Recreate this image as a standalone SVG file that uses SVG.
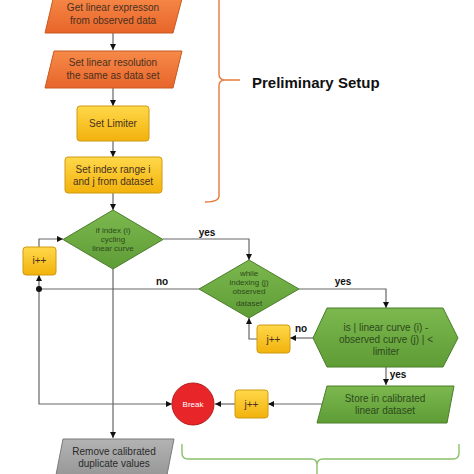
<svg xmlns="http://www.w3.org/2000/svg" width="474" height="474" viewBox="0 0 474 474">
<defs>
<linearGradient id="gOr" x1="0" y1="0" x2="0" y2="1"><stop offset="0" stop-color="#f68a48"/><stop offset="1" stop-color="#e8652a"/></linearGradient>
<linearGradient id="gYe" x1="0" y1="0" x2="0" y2="1"><stop offset="0" stop-color="#ffd84a"/><stop offset="1" stop-color="#f2b20c"/></linearGradient>
<linearGradient id="gGr" x1="0" y1="0" x2="0" y2="1"><stop offset="0" stop-color="#7cb84e"/><stop offset="1" stop-color="#5e9c36"/></linearGradient>
<linearGradient id="gGy" x1="0" y1="0" x2="0" y2="1"><stop offset="0" stop-color="#b3b3b3"/><stop offset="1" stop-color="#949494"/></linearGradient>
<marker id="ar" viewBox="0 0 10 10" refX="10" refY="5" markerWidth="6" markerHeight="6" orient="auto" markerUnits="userSpaceOnUse"><path d="M0,0 L10,5 L0,10 z" fill="#111"/></marker>
<style>
.t{font-family:"Liberation Sans",Arial,sans-serif;font-size:10px;fill:#4a3020;text-anchor:middle}
.td{font-family:"Liberation Sans",Arial,sans-serif;font-size:8px;fill:#2e4a1c;text-anchor:middle}
.tg{font-family:"Liberation Sans",Arial,sans-serif;font-size:10px;fill:#2e4a1c;text-anchor:middle}
.lb{font-family:"Liberation Sans",Arial,sans-serif;font-size:10px;font-weight:bold;fill:#111;text-anchor:middle}
.or{fill:url(#gOr);stroke:#c65a22;stroke-width:1}
.ye{fill:url(#gYe);stroke:#d09a10;stroke-width:1}
.gr{fill:url(#gGr);stroke:#4a7e2a;stroke-width:1}
.cn{fill:none;stroke:#666;stroke-width:1.2}
</style>
</defs>

<g id="connectors">
<path class="cn" d="M113,33 V50" marker-end="url(#ar)"/>
<path class="cn" d="M113,88 V106" marker-end="url(#ar)"/>
<path class="cn" d="M113,141 V157" marker-end="url(#ar)"/>
<path class="cn" d="M113,193 V210" marker-end="url(#ar)"/>
<path class="cn" d="M113,269 V438" marker-end="url(#ar)"/>
<path class="cn" d="M163,239 H249 V260" marker-end="url(#ar)"/>
<path class="cn" d="M299,289 H386 V308" marker-end="url(#ar)"/>
<path class="cn" d="M199,289 H39"/>
<path class="cn" d="M39,289 V275" marker-end="url(#ar)"/>
<path class="cn" d="M39,247 V239 H63" marker-end="url(#ar)"/>
<path class="cn" d="M39,289 V404 H172" marker-end="url(#ar)"/>
<path class="cn" d="M313,338 H290" marker-end="url(#ar)"/>
<path class="cn" d="M257,339 H249 V318" marker-end="url(#ar)"/>
<path class="cn" d="M386,367 V385" marker-end="url(#ar)"/>
<path class="cn" d="M322,404 H268" marker-end="url(#ar)"/>
<path class="cn" d="M235,404 H215" marker-end="url(#ar)"/>
<circle cx="39" cy="289" r="3" fill="#111"/>
<text class="lb" x="207" y="236">yes</text>
<text class="lb" x="162" y="285">no</text>
<text class="lb" x="343" y="285">yes</text>
<text class="lb" x="301" y="332">no</text>
<text class="lb" x="398" y="378">yes</text>
</g>

<g id="n1"><polygon class="or" points="54,-5 183,-5 173,33 45,33"/>
<text class="t" x="113" y="11">Get linear expresson</text><text class="t" x="113" y="24">from observed data</text></g>

<g id="n2"><polygon class="or" points="54,51 182,51 173,88 45,88"/>
<text class="t" x="113" y="66">Set linear resolution</text><text class="t" x="113" y="79">the same as data set</text></g>

<g id="n3"><rect class="ye" x="77" y="106" width="72" height="35" rx="3"/>
<text class="t" x="113" y="127">Set Limiter</text></g>

<g id="n4"><rect class="ye" x="65" y="157" width="97" height="36" rx="3"/>
<text class="t" x="113" y="173">Set index range i</text><text class="t" x="113" y="185">and j from dataset</text></g>

<g id="d1"><polygon class="gr" points="113,210 163,239.5 113,269 63,239.5"/>
<text class="td" x="113" y="233">if index (i)</text><text class="td" x="113" y="242">cycling</text><text class="td" x="113" y="251">linear curve</text></g>

<g id="i1"><rect class="ye" x="23" y="247" width="33" height="28" rx="3"/>
<text class="t" x="39.5" y="264">i++</text></g>

<g id="d2"><polygon class="gr" points="249,260 299,289 249,318 199,289"/>
<text class="td" x="249" y="276">while</text><text class="td" x="249" y="285">indexing (j)</text><text class="td" x="249" y="294">observed</text><text class="td" x="249" y="306">dataset</text></g>

<g id="hex"><polygon class="gr" points="313,338 327,308 443,308 458,338 443,367 327,367"/>
<text class="tg" x="386" y="331">is | linear curve (i) -</text><text class="tg" x="386" y="343">observed curve (j) | &lt;</text><text class="tg" x="386" y="355">limiter</text></g>

<g id="j1"><rect class="ye" x="257" y="325" width="33" height="28" rx="3"/>
<text class="t" x="273.5" y="343">j++</text></g>

<g id="store"><polygon class="gr" points="327,386 454,386 447,423 317,423"/>
<text class="tg" x="385" y="402">Store in calibrated</text><text class="tg" x="385" y="414">linear dataset</text></g>

<g id="j2"><rect class="ye" x="235" y="390" width="33" height="28" rx="3"/>
<text class="t" x="251.5" y="408">j++</text></g>

<g id="brk"><circle cx="193" cy="404" r="21" fill="#e8262a" stroke="#b51c1c" stroke-width="1"/>
<text x="193" y="407" style="font-family:'Liberation Sans',Arial,sans-serif;font-size:8px;fill:#fff;text-anchor:middle">Break</text></g>

<g id="rem"><polygon points="63,439 174,439 166,480 55,480" fill="url(#gGy)" stroke="#7a7a7a" stroke-width="1"/>
<text class="t" x="114" y="455" style="fill:#2a2a2a">Remove calibrated</text><text class="t" x="114" y="467" style="fill:#2a2a2a">duplicate values</text></g>

<g id="brace1"><path d="M205,202 Q219,202 219,196 V86 Q219,80 225,80 H240 M225,80 Q219,80 219,74 V-5" fill="none" stroke="#e57b3a" stroke-width="1.4"/>
<text x="252" y="88" style="font-family:'Liberation Sans',Arial,sans-serif;font-size:15px;font-weight:bold;fill:#111">Preliminary Setup</text></g>

<g id="brace2"><path d="M182,444 V453 Q182,459 188,459 H311 Q317,459 317,465 V476 M317,465 Q317,459 323,459 H453 Q459,459 459,453 V444" fill="none" stroke="#8cc06a" stroke-width="1.4"/></g>
</svg>
